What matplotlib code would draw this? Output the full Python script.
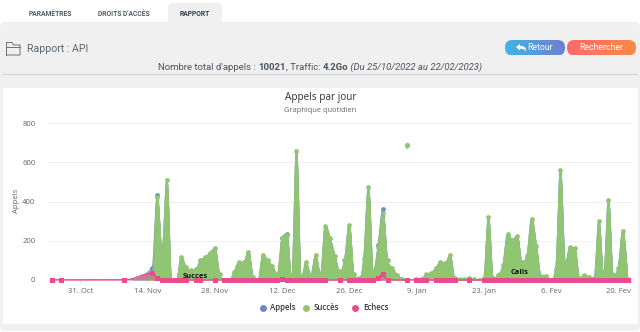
import numpy as np
import pandas as pd
import matplotlib
matplotlib.use("Agg")
import matplotlib.pyplot as plt
import matplotlib.dates as mdates
from matplotlib.patches import FancyBboxPatch, Rectangle, Polygon

START = pd.Timestamp("2022-10-31")
# day offsets from 31 Oct and values
days = [-6, -4, 9, 15, 16, 17, 18, 19, 20, 21, 22, 23, 24, 25, 26, 27, 28, 29, 30, 31, 32, 33, 34, 35, 36, 37,
        38, 39, 40, 41, 42, 43, 44, 45, 46, 47, 48, 49, 50, 51, 52, 53, 54, 55, 56, 57, 58, 59, 60, 61, 62,
        63, 64, 65, 66, 67, 69, 70, 71, 72, 73, 74, 75, 76, 77, 78, 79, 80, 81, 82, 83, 84, 85, 86, 87, 88,
        89, 90, 91, 92, 93, 94, 95, 96, 97, 98, 99, 100, 101, 102, 103, 104, 105, 106, 107, 108, 109, 110,
        111, 112, 113, 114]
succes = [0, 0, 0, 30, 425, 150, 512, 0, 0, 118, 65, 50, 55, 100, 115, 140, 162, 30, 0, 0, 40, 90, 90, 145, 15, 0,
          130, 100, 72, 30, 212, 232, 8, 660, 5, 90, 25, 128, 30, 278, 215, 125, 45, 100, 283, 30, 10, 105, 475, 40, 170,
          340, 100, 60, 25, 5, 0, 5, 5, 30, 35, 60, 90, 85, 128, 10, 5, 5, 10, 3, 2, 10, 320, 10, 25, 75,
          235, 205, 226, 90, 125, 310, 175, 20, 20, 0, 56, 562, 85, 167, 162, 10, 24, 15, 10, 300, 25, 410,
          25, 62, 250, 5]
appels = [0, 0, 0, 63, 432, 152, 512, 0, 0, 118, 65, 50, 55, 100, 115, 140, 162, 30, 0, 0, 40, 90, 90, 145, 15, 0,
          130, 100, 72, 30, 215, 235, 8, 660, 5, 90, 25, 128, 30, 278, 215, 125, 45, 100, 283, 30, 10, 105, 475, 40, 178,
          360, 100, 60, 25, 5, 0, 5, 5, 30, 35, 60, 90, 85, 128, 10, 5, 5, 10, 3, 2, 10, 320, 10, 25, 75,
          235, 205, 226, 90, 125, 310, 175, 20, 20, 0, 56, 562, 85, 167, 162, 10, 24, 15, 10, 300, 25, 410,
          25, 62, 250, 5]
echec_days = [-6, -4, 9, 15, 16, 17, 18, 19, 20, 21, 22, 24, 25, 28, 30, 31, 32, 33, 34, 35, 36, 37, 38, 39, 40, 41, 42,
              43, 44, 45, 46, 47, 48, 49, 50, 51, 54, 56, 57, 58, 59, 60, 61, 62, 63, 64, 68, 70, 71, 72, 74, 75, 76, 77, 78,
              81] + list(range(84, 115))
echec_vals = [0, 0, 0, 34, 10, 0, 0, 0, 0, 0, 0, 0, 0, 0, 0, 0, 0, 0, 0, 0, 0, 0, 0, 0, 0, 0, 3,
              2, 0, 0, 0, 0, 0, 0, 0, 0, 0, 0, 0, 0, 0, 0, 0, 12, 30, 2, 0, 0, 0, 0, 0, 0, 0, 0, 0,
              0] + [0] * 31
lone_day = [68]
lone_val = [690]
tick_days = [0, 14, 28, 42, 56, 70, 84, 98, 112]
tick_labels = ["31. Oct", "14. Nov", "28. Nov", "12. Dec", "26. Dec", "9. Jan", "23. Jan", "6. Fev", "20. Fev"]
y_ticks = [0, 200, 400, 600, 800]

W, H = 640, 332
fig = plt.figure(figsize=(W / 100, H / 100), dpi=100, facecolor="white")
plt.rcParams["font.family"] = ["Roboto", "DejaVu Sans"]

# page chrome in pixel coordinates
bg = fig.add_axes([0, 0, 1, 1], zorder=0)
bg.set_xlim(0, W); bg.set_ylim(H, 0); bg.axis("off")
bg.add_patch(FancyBboxPatch((0, 22), W, 309, boxstyle="round,pad=0,rounding_size=5", fc="#f0f0f0", ec="none"))
bg.add_patch(FancyBboxPatch((168, 3), 54, 30, boxstyle="round,pad=0,rounding_size=5", fc="#f0f0f0", ec="none"))
bg.add_patch(Rectangle((3, 88), 634.5, 236, fc="white", ec="none"))
bg.plot([3, 637], [74, 74], color="#d4d6d8", lw=0.8)
for x, s, c in [(50, "PARAMÈTRES", "#4f5b66"), (124, "DROITS D'ACCÈS", "#4f5b66"), (195, "RAPPORT", "#2f3b47")]:
    bg.text(x, 14.5, s, fontsize=4.9, fontweight="bold", color=c, ha="center", va="center")
# folder icon
bg.plot([6.5, 6.5, 12, 13.5, 20, 20, 6.5], [55, 42.5, 42.5, 45, 45, 55, 55], color="#66727e", lw=0.7)
bg.plot([6.5, 20], [46.5, 46.5], color="#66727e", lw=0.7)
bg.text(27, 49.5, "Rapport : API", fontsize=7.6, color="#5d6770", va="center")
bbox_text = [("Nombre total d'appels : ", "normal", "normal"), ("10021", "bold", "normal"), (", Traffic: ", "normal", "normal"),
             ("4.2Go", "bold", "normal"), (" (Du 25/10/2022 au 22/02/2023)", "normal", "italic")]
r = fig.canvas.get_renderer()
cx = 158.0
for s, w, st in bbox_text:
    tx = bg.text(cx, 67.5, s, fontsize=6.8, color="#4b545c", fontweight=w, fontstyle=st, va="center")
    cx += tx.get_window_extent(r).width


def button(x0, x1, c0, c1, label, shift=0):
    grad = np.linspace(0, 1, 64)[None, :, None]
    c0 = np.array(matplotlib.colors.to_rgb(c0)); c1 = np.array(matplotlib.colors.to_rgb(c1))
    im = bg.imshow(c0 + (c1 - c0) * grad, extent=[x0, x1, 55.5, 40], aspect="auto", zorder=2)
    clip = FancyBboxPatch((x0, 40), x1 - x0, 15.5, boxstyle="round,pad=0,rounding_size=7.5", fc="none", ec="none",
                          transform=bg.transData)
    bg.add_patch(clip)
    im.set_clip_path(clip)
    bg.text((x0 + x1) / 2 + shift, 47.8, label, fontsize=6.2, color="white", ha="center", va="center", zorder=3)


button(505, 565, "#42b4e6", "#6f7fd0", "Retour", 5)
button(567, 636, "#fb6a6a", "#fb8a45", "Rechercher")
bg.add_patch(Polygon([(516, 47), (520, 43.8), (520, 45.8), (523.5, 46.3), (525.5, 48), (526, 51.5), (524, 49.3), (520, 48.7),
                      (520, 50.5)], closed=True, fc="white", ec="none", zorder=3))
bg.set_xlim(0, W); bg.set_ylim(H, 0)


def spline(x, y, n=14):
    """Smooth drawing path through the data points (x ascending)."""
    x = np.asarray(x, float); y = np.asarray(y, float)
    m = len(x)
    lx, ly, rx, ry = x.copy(), y.copy(), x.copy(), y.copy()
    for i in range(1, m - 1):
        lx[i] = (1.5 * x[i] + x[i - 1]) / 2.5; ly[i] = (1.5 * y[i] + y[i - 1]) / 2.5
        rx[i] = (1.5 * x[i] + x[i + 1]) / 2.5; ry[i] = (1.5 * y[i] + y[i + 1]) / 2.5
        c = (ry[i] - ly[i]) * (rx[i] - x[i]) / (rx[i] - lx[i]) + y[i] - ry[i]
        ly[i] += c; ry[i] += c
        if ly[i] > max(y[i - 1], y[i]):
            ly[i] = max(y[i - 1], y[i]); ry[i] = 2 * y[i] - ly[i]
        elif ly[i] < min(y[i - 1], y[i]):
            ly[i] = min(y[i - 1], y[i]); ry[i] = 2 * y[i] - ly[i]
        if ry[i] > max(y[i + 1], y[i]):
            ry[i] = max(y[i + 1], y[i]); ly[i] = 2 * y[i] - ry[i]
        elif ry[i] < min(y[i + 1], y[i]):
            ry[i] = min(y[i + 1], y[i]); ly[i] = 2 * y[i] - ry[i]
    t = np.linspace(0, 1, n, endpoint=False)[:, None]
    ox, oy = [], []
    for i in range(m - 1):
        bx = (1 - t) ** 3 * x[i] + 3 * (1 - t) ** 2 * t * rx[i] + 3 * (1 - t) * t ** 2 * lx[i + 1] + t ** 3 * x[i + 1]
        by = (1 - t) ** 3 * y[i] + 3 * (1 - t) ** 2 * t * ry[i] + 3 * (1 - t) * t ** 2 * ly[i + 1] + t ** 3 * y[i + 1]
        ox.append(bx.ravel()); oy.append(by.ravel())
    return np.r_[np.concatenate(ox), x[-1]], np.r_[np.concatenate(oy), y[-1]]


# chart
x0, x1, ytop, ybot = 46.5, 632, 123.3, 280
ax = fig.add_axes([x0 / W, 1 - ybot / H, (x1 - x0) / W, (ybot - ytop) / H], zorder=1)
ax.patch.set_alpha(0)
to_num = lambda ds: mdates.date2num([START + pd.Timedelta(days=int(d)) for d in ds])
xs, xe, xl = to_num(days), to_num(echec_days), to_num(lone_day)
px_per_day = 4.8
base = mdates.date2num(START)
ax.set_xlim(base + (x0 - 80.5) / px_per_day, base + (x1 - 80.5) / px_per_day)
ax.set_ylim(0, 800)

BLUE, GREEN, PINK = "#7088c4", "#90c572", "#ec4a8e"
xa, ya = spline(xs, appels)
ax.fill_between(xa, ya, color=BLUE, alpha=0.8, lw=0, zorder=2)
ax.plot(xa, ya, color=BLUE, lw=0.8, zorder=2)
nz = [i for i, v in enumerate(appels) if v != succes[i]]
ax.plot(xs[nz], np.array(appels)[nz], "o", color=BLUE, ms=3.4, mew=0, zorder=3)
xg, yg = spline(xs, succes)
ax.fill_between(xg, yg, color=GREEN, lw=0, zorder=3)
ax.plot(xg, yg, color=GREEN, lw=0.8, zorder=3)
g = [i for i, v in enumerate(succes) if v > 0]
ax.plot(xs[g], np.array(succes)[g], "o", color=GREEN, ms=3.4, mew=0, zorder=4)
ax.plot(xl, lone_val, "o", color=GREEN, ms=3.8, mew=0, zorder=4)
ax.plot([xl[0], xl[0]], [lone_val[0], lone_val[0] - 18], color=GREEN, lw=1.2, zorder=4)
xp, yp = spline(xe, echec_vals)
ax.fill_between(xp, yp, color=PINK, alpha=0.5, lw=0, zorder=5)
ax.plot(xp, yp, color=PINK, lw=1.0, zorder=6, clip_on=False)
ax.plot(xe, echec_vals, "s", color=PINK, ms=3.6, mew=0, zorder=6, clip_on=False)

ax.set_yticks(y_ticks)
ax.set_xticks(to_num(tick_days), tick_labels)
CHART_FONT = ["Open Sans", "DejaVu Sans"]
ax.tick_params(axis="y", length=0, pad=8, labelsize=5.6, labelcolor="#666666")
ax.tick_params(axis="x", length=2.5, width=0.5, color="#ccd6eb", pad=3, labelsize=5.6, labelcolor="#666666")
for lb in ax.get_xticklabels() + ax.get_yticklabels():
    lb.set_family(CHART_FONT)
ax.grid(axis="y", color="#ececec", lw=0.6)
ax.set_axisbelow(True)
for s in ax.spines.values():
    s.set_visible(False)

bg2 = fig.add_axes([0, 0, 1, 1], zorder=3)
bg2.set_xlim(0, W); bg2.set_ylim(H, 0); bg2.axis("off"); bg2.patch.set_alpha(0)
bg2.text(16, 201, "Appels", rotation=90, fontsize=5.6, color="#666666", ha="center", va="center", family=CHART_FONT)
bg2.text(320.5, 97.5, "Appels par jour", fontsize=7.2, color="#333333", ha="center", va="center", family=CHART_FONT)
bg2.text(320.5, 111, "Graphique quotidien", fontsize=5.4, color="#666666", ha="center", va="center", family=CHART_FONT)
bg2.text(195, 276, "Succes", fontsize=5.4, fontweight="bold", color="#111111", ha="center", va="center", family=CHART_FONT)
bg2.text(520, 272, "Calls", fontsize=5.4, fontweight="bold", color="#111111", ha="center", va="center", family=CHART_FONT)
for mx, tx, s, c in [(262.5, 270, "Appels", BLUE), (306, 313.5, "Succès", GREEN), (355, 363, "Echecs", PINK)]:
    bg2.plot([mx], [308], "o", color=c, ms=5, mew=0)
    bg2.text(tx, 308, s, fontsize=5.7, fontweight="semibold", color="#333333", va="center", family=CHART_FONT)

fig.savefig("out.png", dpi=100)
